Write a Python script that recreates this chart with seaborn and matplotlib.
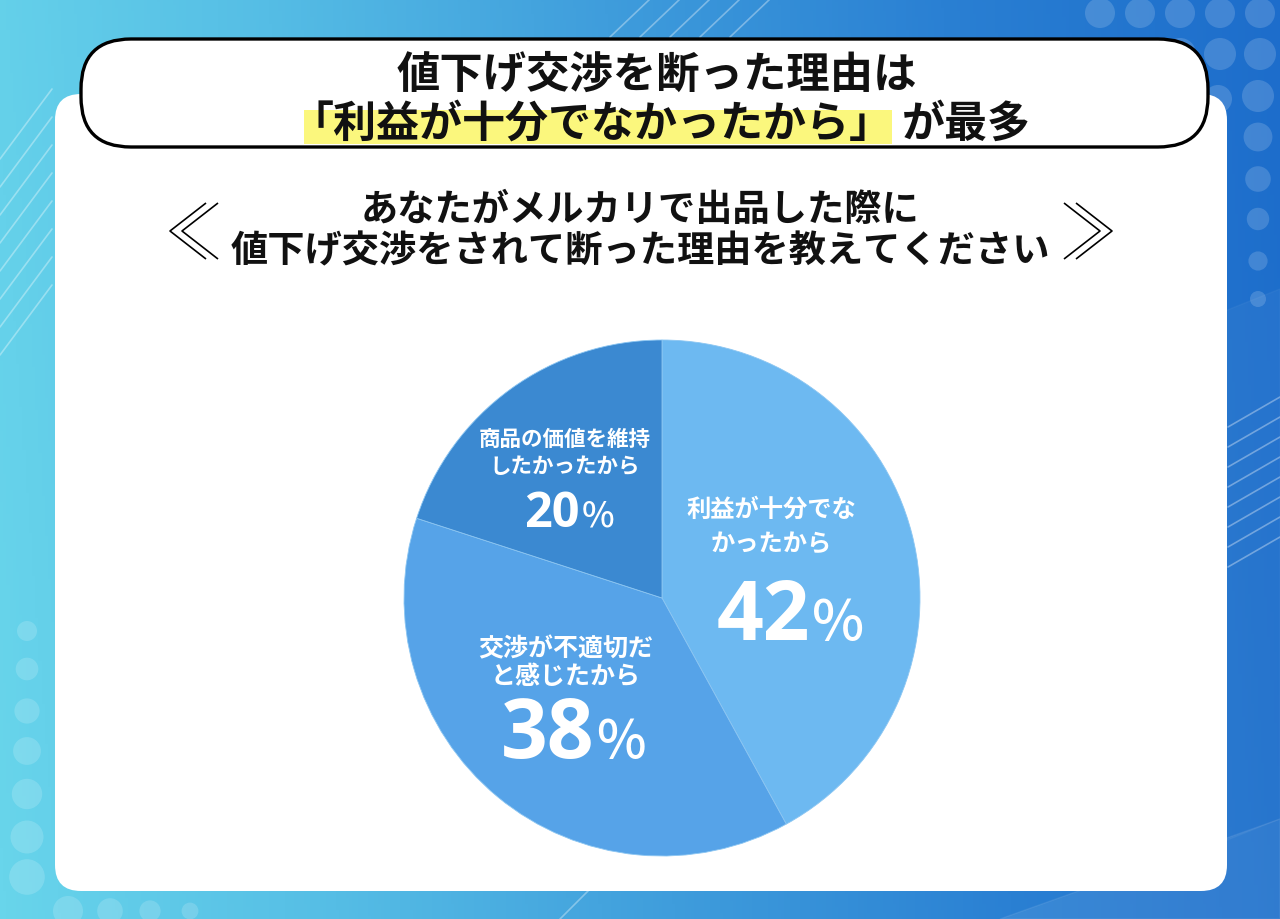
"""   Pie chart: reasons for refusing a price-cut request on Mercari   """
import matplotlib
matplotlib.use('Agg')
import matplotlib.pyplot as plt
from matplotlib.patches import FancyBboxPatch, Circle, Rectangle
import numpy as np
import seaborn as sns

# ~~~~~~~  Data  ~~~~~~~ #
reasons = ['利益が十分でな\nかったから', '交渉が不適切だ\nと感じたから', '商品の価値を維持\nしたかったから']
shares = [42, 38, 20]
slice_colors = ['#6db9f1', '#56a3e8', '#3b89d1']

title_line1 = '値下げ交渉を断った理由は'
title_line2a = '「利益が十分でなかったから」'
title_line2b = 'が最多'
question = 'あなたがメルカリで出品した際に\n値下げ交渉をされて断った理由を教えてください'

W, H = 1280, 920

sns.set_theme(style='white')
plt.rcParams['font.family'] = ['Noto Sans CJK JP', 'DejaVu Sans']


def fx(x):
    return x / W


def fy(y):
    return 1 - y / H


fig = plt.figure(figsize=(W / 100, H / 100), dpi=100)

# background axes in pixel coordinates (y downwards)
bg = fig.add_axes([0, 0, 1, 1])
bg.set_xlim(0, W)
bg.set_ylim(H, 0)
bg.axis('off')

# gradient: cyan on the left to deep blue on the right
cmap = matplotlib.colors.LinearSegmentedColormap.from_list(
    'bg', ['#68d5eb', '#55bde5', '#3f9ddc', '#2a80d3', '#1d6dcb'])
gx = np.linspace(0, 1, 400)
gy = np.linspace(0, 1, 300)
GX, GY = np.meshgrid(gx, gy)
grad = np.clip(GX * 0.92 + (1 - GY) * 0.05, 0, 1)
bg.imshow(grad, cmap=cmap, extent=[0, W, H, 0], aspect='auto', zorder=0)

# lighter diagonal band on the lower right
bg.fill([1000, 1280, 1280, 1060], [920, 820, 920, 920], color='white', alpha=0.08, zorder=1)
bg.fill([1180, 1280, 1280, 1180], [330, 290, 820, 860], color='white', alpha=0.04, zorder=1)

# dots
dot_kw = dict(color='white', alpha=0.16, zorder=1, lw=0)
for i, y in enumerate([632, 670, 712, 752, 795, 838, 878]):
    bg.add_patch(Circle((27, y), 10 + i * 1.3, **dot_kw))
for i, x in enumerate([68, 110, 150, 190]):
    bg.add_patch(Circle((x, 912), 15 - i * 2.2, **dot_kw))
for x in [1100, 1140, 1180, 1220, 1260]:
    bg.add_patch(Circle((x, 14), 15, **dot_kw))
for x in [1180, 1220, 1260]:
    bg.add_patch(Circle((x, 55), 16, **dot_kw))
for i, y in enumerate([97, 138, 180, 220, 262, 300]):
    bg.add_patch(Circle((1258, y), 16 - i * 1.6, **dot_kw))
bg.add_patch(Circle((1218, 100), 14, **dot_kw))

# diagonal lines
line_kw = dict(color='white', alpha=0.35, lw=1.2, zorder=1)
for k in range(8):
    y0 = 90 + k * 28
    bg.plot([0, 52], [y0 + 70, y0], **line_kw)
for k in range(5):
    x0 = 610 + k * 30
    bg.plot([x0, x0 + 40], [38, 0], **line_kw)
for k in range(8):
    y0 = 398 + k * 20
    bg.plot([1228, 1280], [y0 + 30, y0], **line_kw)
bg.plot([560, 590], [920, 890], **line_kw)

# white panel
bg.add_patch(FancyBboxPatch((55, 95), 1172, 797,
                            boxstyle='round,pad=0,rounding_size=26',
                            fc='white', ec='none', zorder=2))

# title box
bg.add_patch(FancyBboxPatch((81, 40), 1127, 108,
                            boxstyle='round,pad=0,rounding_size=50',
                            fc='white', ec='black', lw=2.4, zorder=3))
# yellow highlight under the key phrase
bg.add_patch(Rectangle((304, 111), 588, 34, fc='#fbf77d', ec='none', zorder=4))

# chevrons around the question
chev_kw = dict(color='black', lw=1.2, zorder=4, solid_capstyle='butt')
for dx in [0, 12]:
    bg.plot([206 + dx, 170 + dx, 206 + dx], [204, 232, 260], **chev_kw)
    bg.plot([1076 - dx, 1112 - dx, 1076 - dx], [204, 232, 260], **chev_kw)

# title text
fig.text(fx(657), fy(75), title_line1, fontsize=31.2, fontweight='bold',
         ha='center', va='center', color='#111111', zorder=5)
fig.text(fx(893), fy(124), title_line2a, fontsize=31, fontweight='bold',
         ha='right', va='center', color='#111111', zorder=5)
fig.text(fx(902), fy(124), title_line2b, fontsize=31, fontweight='bold',
         ha='left', va='center', color='#111111', zorder=5)

# question text
fig.text(fx(640), fy(231), question, fontsize=26.8, fontweight='bold',
         ha='center', va='center', color='#111111', linespacing=1.15, zorder=5)

# ~~~~~~~  Pie  ~~~~~~~ #
cx, cy, r = 662, 599, 258
pie_ax = fig.add_axes([fx(cx - r), fy(cy + r), 2 * r / W, 2 * r / H])
palette = sns.color_palette(slice_colors)
wedges, _ = pie_ax.pie(shares, colors=palette, startangle=90, counterclock=False,
                       radius=1, wedgeprops=dict(lw=0.6, ec='#8cc6f2'))
pie_ax.set_xlim(-1.0, 1.0)
pie_ax.set_ylim(-1.0, 1.0)
pie_ax.axis('off')

# labels inside the slices
label_layout = [
    dict(x=771, y=527, ls=1.55, lab_fs=17.5, split=810, num_y=640, num_fs=59, pct_fs=40),
    dict(x=566, y=663, ls=1.2, lab_fs=18, split=594, num_y=758, num_fs=59, pct_fs=38),
    dict(x=565, y=453, ls=1.35, lab_fs=15.5, split=580, num_y=527, num_fs=35, pct_fs=25),
]
for text, value, lay in zip(reasons, shares, label_layout):
    fig.text(fx(lay['x']), fy(lay['y']), text, fontsize=lay['lab_fs'],
             fontweight='bold', color='white', ha='center', va='center',
             linespacing=lay['ls'], zorder=6)
    fig.text(fx(lay['split']), fy(lay['num_y']), f'{value}',
             fontsize=lay['num_fs'], fontweight='bold', family='Open Sans',
             color='white', ha='right', va='baseline', zorder=6)
    fig.text(fx(lay['split'] + 2), fy(lay['num_y']), '%',
             fontsize=lay['pct_fs'], fontweight='medium', color='white',
             ha='left', va='baseline', zorder=6)

fig.savefig('out.png', dpi=100)
